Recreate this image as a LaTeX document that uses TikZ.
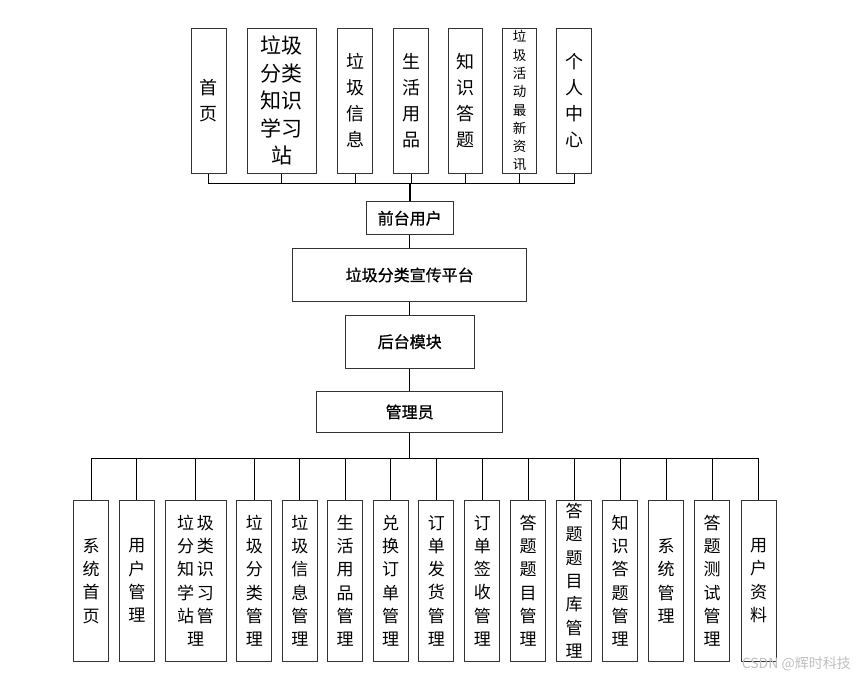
\documentclass[tikz,border=0pt]{standalone}
\usepackage{fontspec}
\setmainfont{Noto Sans CJK SC}
\newfontfamily\midfont{Noto Sans CJK SC}[FakeBold=0.8]
\begin{document}
\begin{tikzpicture}[x=1pt,y=-1pt,
  box/.style={draw=black!80,line width=1pt,inner sep=0pt,align=center,fill=white},
  topbox/.style={box,minimum width=34.6pt,minimum height=145pt,font=\fontsize{18}{26}\selectfont},
  botbox/.style={box,minimum width=35pt,minimum height=161.3pt,font=\fontsize{17}{23.3}\selectfont},
  midbox/.style={box,font=\fontsize{16}{18}\midfont},
  link/.style={draw=black,line width=0.8pt},
  trunk/.style={draw=black,line width=1.8pt}]
\useasboundingbox (0,0) rectangle (855,679);
% top modules
\node[topbox] (t1) at (208.7,100.8) {首\\页};
\node[topbox,minimum width=69pt,font=\fontsize{21}{27.5}\selectfont] (t2) at (281.8,100.8) {垃圾\\分类\\知识\\学习\\站};
\node[topbox] (t3) at (355,100.8) {垃\\圾\\信\\息};
\node[topbox] (t4) at (411,100.8) {生\\活\\用\\品};
\node[topbox] (t5) at (465.3,100.8) {知\\识\\答\\题};
\node[topbox,font=\fontsize{13.5}{18.3}\selectfont] (t6) at (519.5,100.8) {垃\\圾\\活\\动\\最\\新\\资\\讯};
\node[topbox] (t7) at (574,100.8) {个\\人\\中\\心};
% middle chain
\node[midbox,minimum width=87.3pt,minimum height=33.3pt] (qt) at (409.7,218.3) {前台用户};
\node[midbox,minimum width=234pt,minimum height=53.4pt] (pt) at (409.7,275) {垃圾分类宣传平台};
\node[midbox,minimum width=129.3pt,minimum height=53.3pt] (ht) at (409.7,341.7) {后台模块};
\node[midbox,minimum width=186pt,minimum height=40.6pt] (gl) at (409.7,412) {管理员};
% bottom modules
\node[botbox] (b1) at (91.2,580.7) {系\\统\\首\\页};
\node[botbox] (b2) at (136.8,580.7) {用\\户\\管\\理};
\node[botbox,minimum width=61pt] (b3) at (195.5,580.7) {垃\hspace{3pt}圾\\分\hspace{3pt}类\\知\hspace{3pt}识\\学\hspace{3pt}习\\站\hspace{3pt}管\\理};
\node[botbox] (b4) at (254.3,580.7) {垃\\圾\\分\\类\\管\\理};
\node[botbox] (b5) at (299.8,580.7) {垃\\圾\\信\\息\\管\\理};
\node[botbox] (b6) at (345.2,580.7) {生\\活\\用\\品\\管\\理};
\node[botbox] (b7) at (390.7,580.7) {兑\\换\\订\\单\\管\\理};
\node[botbox] (b8) at (436.3,580.7) {订\\单\\发\\货\\管\\理};
\node[botbox] (b9) at (482.3,580.7) {订\\单\\签\\收\\管\\理};
\node[botbox] (b10) at (528.2,580.7) {答\\题\\题\\目\\管\\理};
\node[botbox] (b11) at (574.2,580.7) {答\\题\\题\\目\\库\\管\\理};
\node[botbox] (b12) at (620.2,580.7) {知\\识\\答\\题\\管\\理};
\node[botbox] (b13) at (666.2,580.7) {系\\统\\管\\理};
\node[botbox] (b14) at (712.2,580.7) {答\\题\\测\\试\\管\\理};
\node[botbox] (b15) at (758.5,580.7) {用\\户\\资\\料};
% junctions
\coordinate (tb) at (409.7,183.3);
\coordinate (bb) at (409.7,458.3);
% connectors
\foreach \i in {1,...,7} {\draw[link] (t\i.south) |- (tb);}
\draw[trunk] (tb) -- (qt.north);
\draw[link] (qt.south) -- (pt.north);
\draw[link] (pt.south) -- (ht.north);
\draw[link] (ht.south) -- (gl.north);
\draw[link] (gl.south) -- (bb);
\foreach \i in {1,...,15} {\draw[link] (bb) -| (b\i.north);}
% watermark
\node[text=black!25,font=\fontsize{14}{16}\selectfont,anchor=east,inner sep=0pt] (wm) at (851,664) {CSDN @辉时科技};
\end{tikzpicture}
\end{document}
